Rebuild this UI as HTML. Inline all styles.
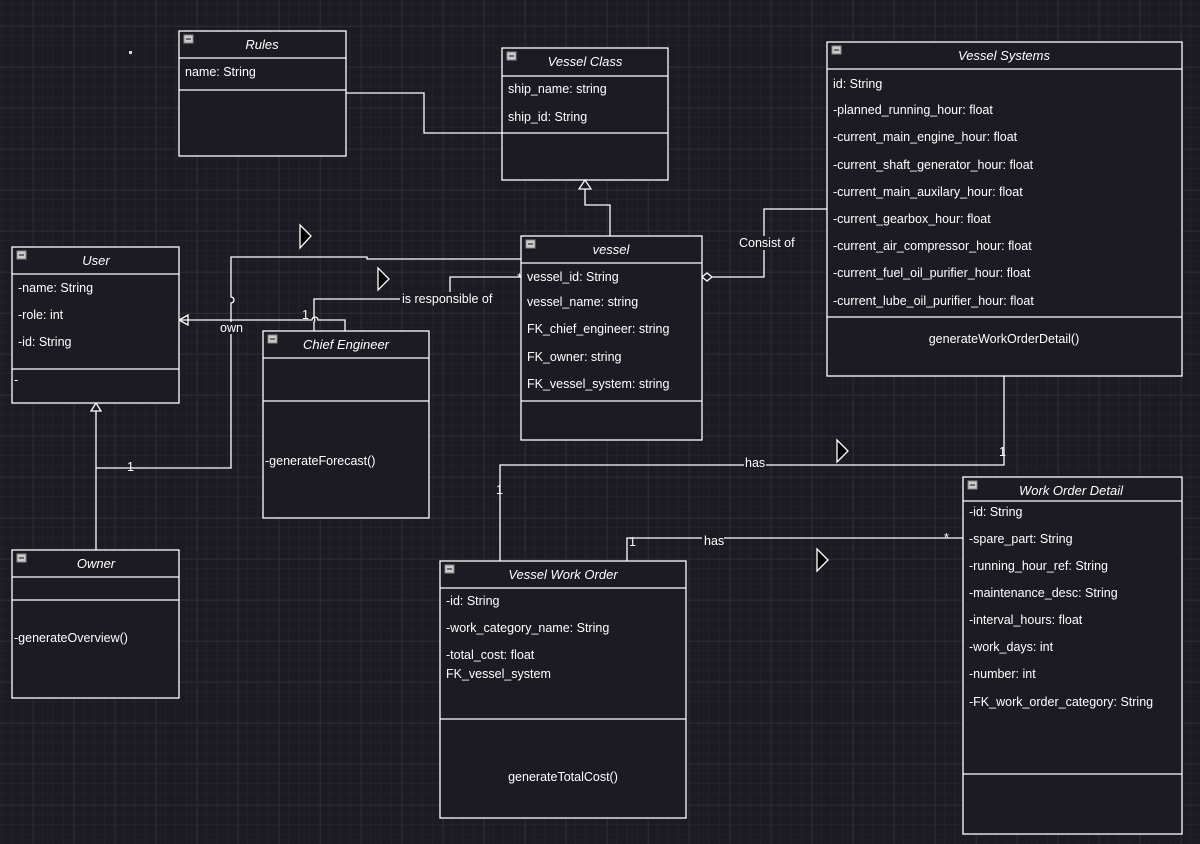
<!DOCTYPE html>
<html><head><meta charset="utf-8"><style>
html,body{margin:0;padding:0;background:#1c1a22;}
svg{display:block}
text{font-family:"Liberation Sans",sans-serif;font-size:12.5px;fill:#fff}
.t{font-style:italic;font-size:13px}
</style></head><body>
<svg width="1200" height="844" xmlns="http://www.w3.org/2000/svg">
<defs>
<pattern id="g1" width="10.25" height="10.25" patternUnits="userSpaceOnUse" x="2" y="5">
<path d="M10.25 0V10.25M0 10.25H10.25" stroke="#29262f" stroke-width="1" fill="none"/></pattern>
<pattern id="g2" width="41" height="41" patternUnits="userSpaceOnUse" x="33" y="26">
<path d="M0 0V41M0 0H41" stroke="#37343e" stroke-width="1" fill="none"/></pattern>
</defs>
<rect width="1200" height="844" fill="#1c1a22"/>
<rect width="1200" height="844" fill="url(#g1)"/>
<rect width="1200" height="844" fill="url(#g2)"/>
<rect x="129" y="51" width="3" height="3" fill="#ddd"/>

<g fill="none" stroke="#fff" stroke-width="1.3">
<path d="M346 93H424V133H502"/>
<path d="M610 236V205H585V180"/>
<path d="M702 277H764V209H827"/>
<path d="M702 277L707 273L712 277L707 281Z" fill="#1c1a22"/>
<path d="M188 320H312A3 3 0 0 1 318 320H345V331"/>
<path d="M188 320L179 320M188 315L179 320L188 325Z" fill="#1c1a22"/>
<path d="M521 259H367V257H231V297A3 3 0 0 1 231 303V468H96"/>
<path d="M521 277H450V299H314V318A3 3 0 0 1 314 322V331"/>
<path d="M96 550V411"/>
<path d="M91 411L96 403L101 411Z" fill="#1c1a22"/>
<path d="M1004 376V465H500V561"/>
<path d="M627 561V538H963"/>
</g>
<g fill="#000" stroke="#fff" stroke-width="1.3">
<path d="M300 225L311 236L300 248Z"/>
<path d="M378 268L389 279L378 290Z"/>
<path d="M837 440L848 451L837 462Z"/>
<path d="M817 549L828 560L817 571Z"/>
</g>
<g>
<rect x="735" y="236" width="58" height="14" fill="#1c1a22"/>
<text x="739" y="247">Consist of</text>
<rect x="218" y="322" width="26" height="12" fill="#1c1a22"/>
<text x="220" y="332">own</text>
<text x="302" y="319">1</text>
<rect x="400" y="292" width="88" height="14" fill="#1c1a22"/>
<text x="402" y="303">is responsible of</text>
<text x="517" y="282" font-size="9">*</text>
<text x="127" y="471">1</text>
<rect x="744" y="458" width="22" height="12" fill="#1c1a22"/>
<text x="745" y="467">has</text>
<text x="999" y="456">1</text>
<text x="496" y="494">1</text>
<text x="629" y="546">1</text>
<rect x="702" y="533" width="22" height="12" fill="#1c1a22"/>
<text x="704" y="545">has</text>
<text x="944" y="542" font-size="9">*</text>
</g>

<g fill="#1c1a22" stroke="#fff" stroke-width="1.3">
<rect x="179" y="31" width="167" height="125"/><path d="M179 58H346M179 90H346"/>
<rect x="502" y="48" width="166" height="132"/><path d="M502 76H668M502 133H668"/>
<rect x="827" y="42" width="355" height="334"/><path d="M827 69H1182M827 317H1182"/>
<rect x="12" y="247" width="167" height="156"/><path d="M12 274H179M12 369H179"/>
<rect x="263" y="331" width="166" height="187"/><path d="M263 358H429M263 401H429"/>
<rect x="521" y="236" width="181" height="204"/><path d="M521 263H702M521 401H702"/>
<rect x="12" y="550" width="167" height="148"/><path d="M12 577H179M12 600H179"/>
<rect x="440" y="561" width="246" height="257"/><path d="M440 588H686M440 719H686"/>
<rect x="963" y="477" width="219" height="357"/><path d="M963 501H1182M963 774H1182"/>
<path d="M579 189L585 180L591 189Z"/>
</g>
<g fill="#ccc" stroke="#888" stroke-width="1">
<rect x="184" y="35" width="9" height="8"/><rect x="507" y="52" width="9" height="8"/>
<rect x="832" y="46" width="9" height="8"/><rect x="17" y="251" width="9" height="8"/>
<rect x="268" y="335" width="9" height="8"/><rect x="526" y="240" width="9" height="8"/>
<rect x="17" y="554" width="9" height="8"/><rect x="445" y="565" width="9" height="8"/>
<rect x="968" y="481" width="9" height="8"/>
</g>
<g stroke="#333" stroke-width="1.2">
<path d="M186 39H191M509 56H514M834 50H839M19 255H24M270 339H275M528 244H533M19 558H24M447 569H452M970 485H975"/>
</g>

<g>
<text class="t" x="262" y="49" text-anchor="middle">Rules</text>
<text x="185" y="76">name: String</text>

<text class="t" x="585" y="66" text-anchor="middle">Vessel Class</text>
<text x="508" y="93">ship_name: string</text>
<text x="508" y="121">ship_id: String</text>

<text class="t" x="1004" y="60" text-anchor="middle">Vessel Systems</text>
<text x="833" y="88">id: String</text>
<text x="833" y="114">-planned_running_hour: float</text>
<text x="833" y="141">-current_main_engine_hour: float</text>
<text x="833" y="169">-current_shaft_generator_hour: float</text>
<text x="833" y="196">-current_main_auxilary_hour: float</text>
<text x="833" y="223">-current_gearbox_hour: float</text>
<text x="833" y="250">-current_air_compressor_hour: float</text>
<text x="833" y="277">-current_fuel_oil_purifier_hour: float</text>
<text x="833" y="305">-current_lube_oil_purifier_hour: float</text>
<text x="1004" y="343" text-anchor="middle">generateWorkOrderDetail()</text>

<text class="t" x="96" y="265" text-anchor="middle">User</text>
<text x="18" y="292">-name: String</text>
<text x="18" y="319">-role: int</text>
<text x="18" y="346">-id: String</text>
<text x="14" y="384">-</text>

<text class="t" x="346" y="349" text-anchor="middle">Chief Engineer</text>
<text x="265" y="465">-generateForecast()</text>

<text class="t" x="611" y="254" text-anchor="middle">vessel</text>
<text x="527" y="281">vessel_id: String</text>
<text x="527" y="306">vessel_name: string</text>
<text x="527" y="333">FK_chief_engineer: string</text>
<text x="527" y="361">FK_owner: string</text>
<text x="527" y="388">FK_vessel_system: string</text>

<text class="t" x="96" y="568" text-anchor="middle">Owner</text>
<text x="14" y="642">-generateOverview()</text>

<text class="t" x="563" y="579" text-anchor="middle">Vessel Work Order</text>
<text x="446" y="605">-id: String</text>
<text x="446" y="632">-work_category_name: String</text>
<text x="446" y="659">-total_cost: float</text>
<text x="446" y="678">FK_vessel_system</text>
<text x="563" y="781" text-anchor="middle">generateTotalCost()</text>

<text class="t" x="1071" y="495" text-anchor="middle">Work Order Detail</text>
<text x="969" y="516">-id: String</text>
<text x="969" y="543">-spare_part: String</text>
<text x="969" y="570">-running_hour_ref: String</text>
<text x="969" y="597">-maintenance_desc: String</text>
<text x="969" y="624">-interval_hours: float</text>
<text x="969" y="651">-work_days: int</text>
<text x="969" y="678">-number: int</text>
<text x="969" y="706">-FK_work_order_category: String</text>
</g>
</svg>
</body></html>
